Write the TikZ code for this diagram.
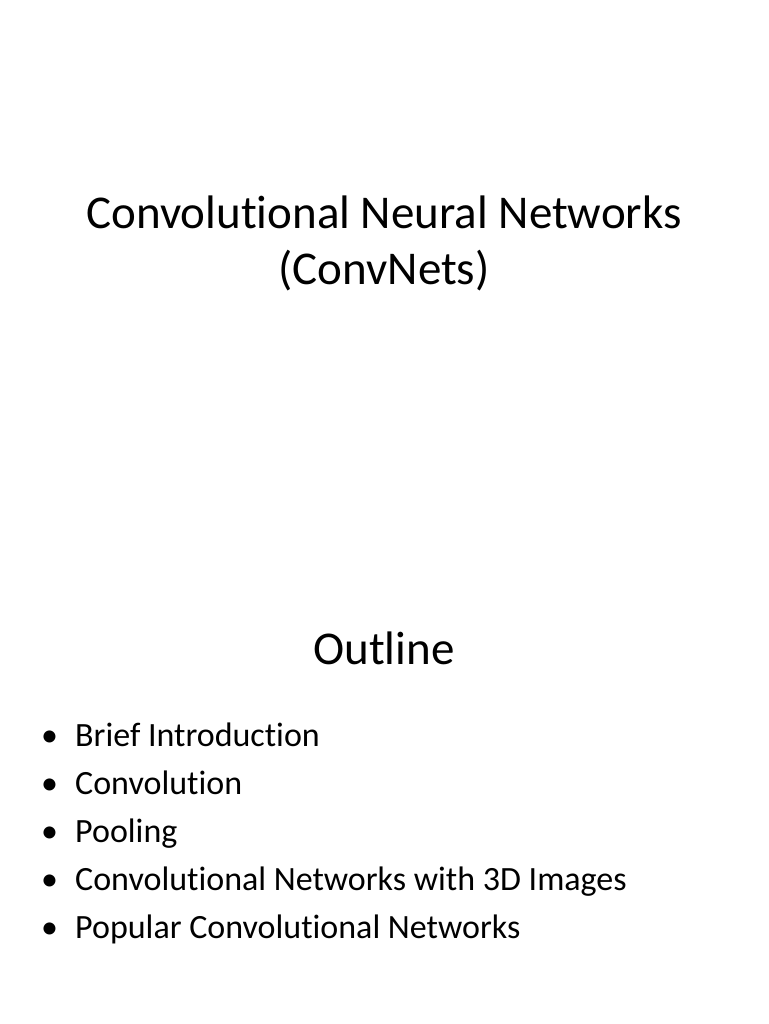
\documentclass[tikz,border=0pt]{standalone}
\usepackage{fontspec}
\setmainfont{Carlito}[Ligatures=NoCommon]
\begin{document}
\begin{tikzpicture}[x=1pt,y=-1pt,
    title/.style={font=\fontsize{47}{56}\selectfont, align=center},
    item/.style={font=\fontsize{34}{40}\selectfont, anchor=base west, inner sep=0pt}]
  \useasboundingbox (0,0) rectangle (768,1024);
  % title slide
  \node[title] (T) at (384,243) {Convolutional Neural Networks\\(ConvNets)};
  % outline slide
  \node[title] (O) at (384,648) {Outline};
  \foreach \t [count=\i] in {Brief Introduction, Convolution, Pooling,
      Convolutional Networks with 3D Images, Popular Convolutional Networks} {
    \node[item] (b\i) at (41,{698+48*\i}) {•};
    \node[item] (i\i) at (75,{698+48*\i}) {\t};
  }
\end{tikzpicture}
\end{document}
